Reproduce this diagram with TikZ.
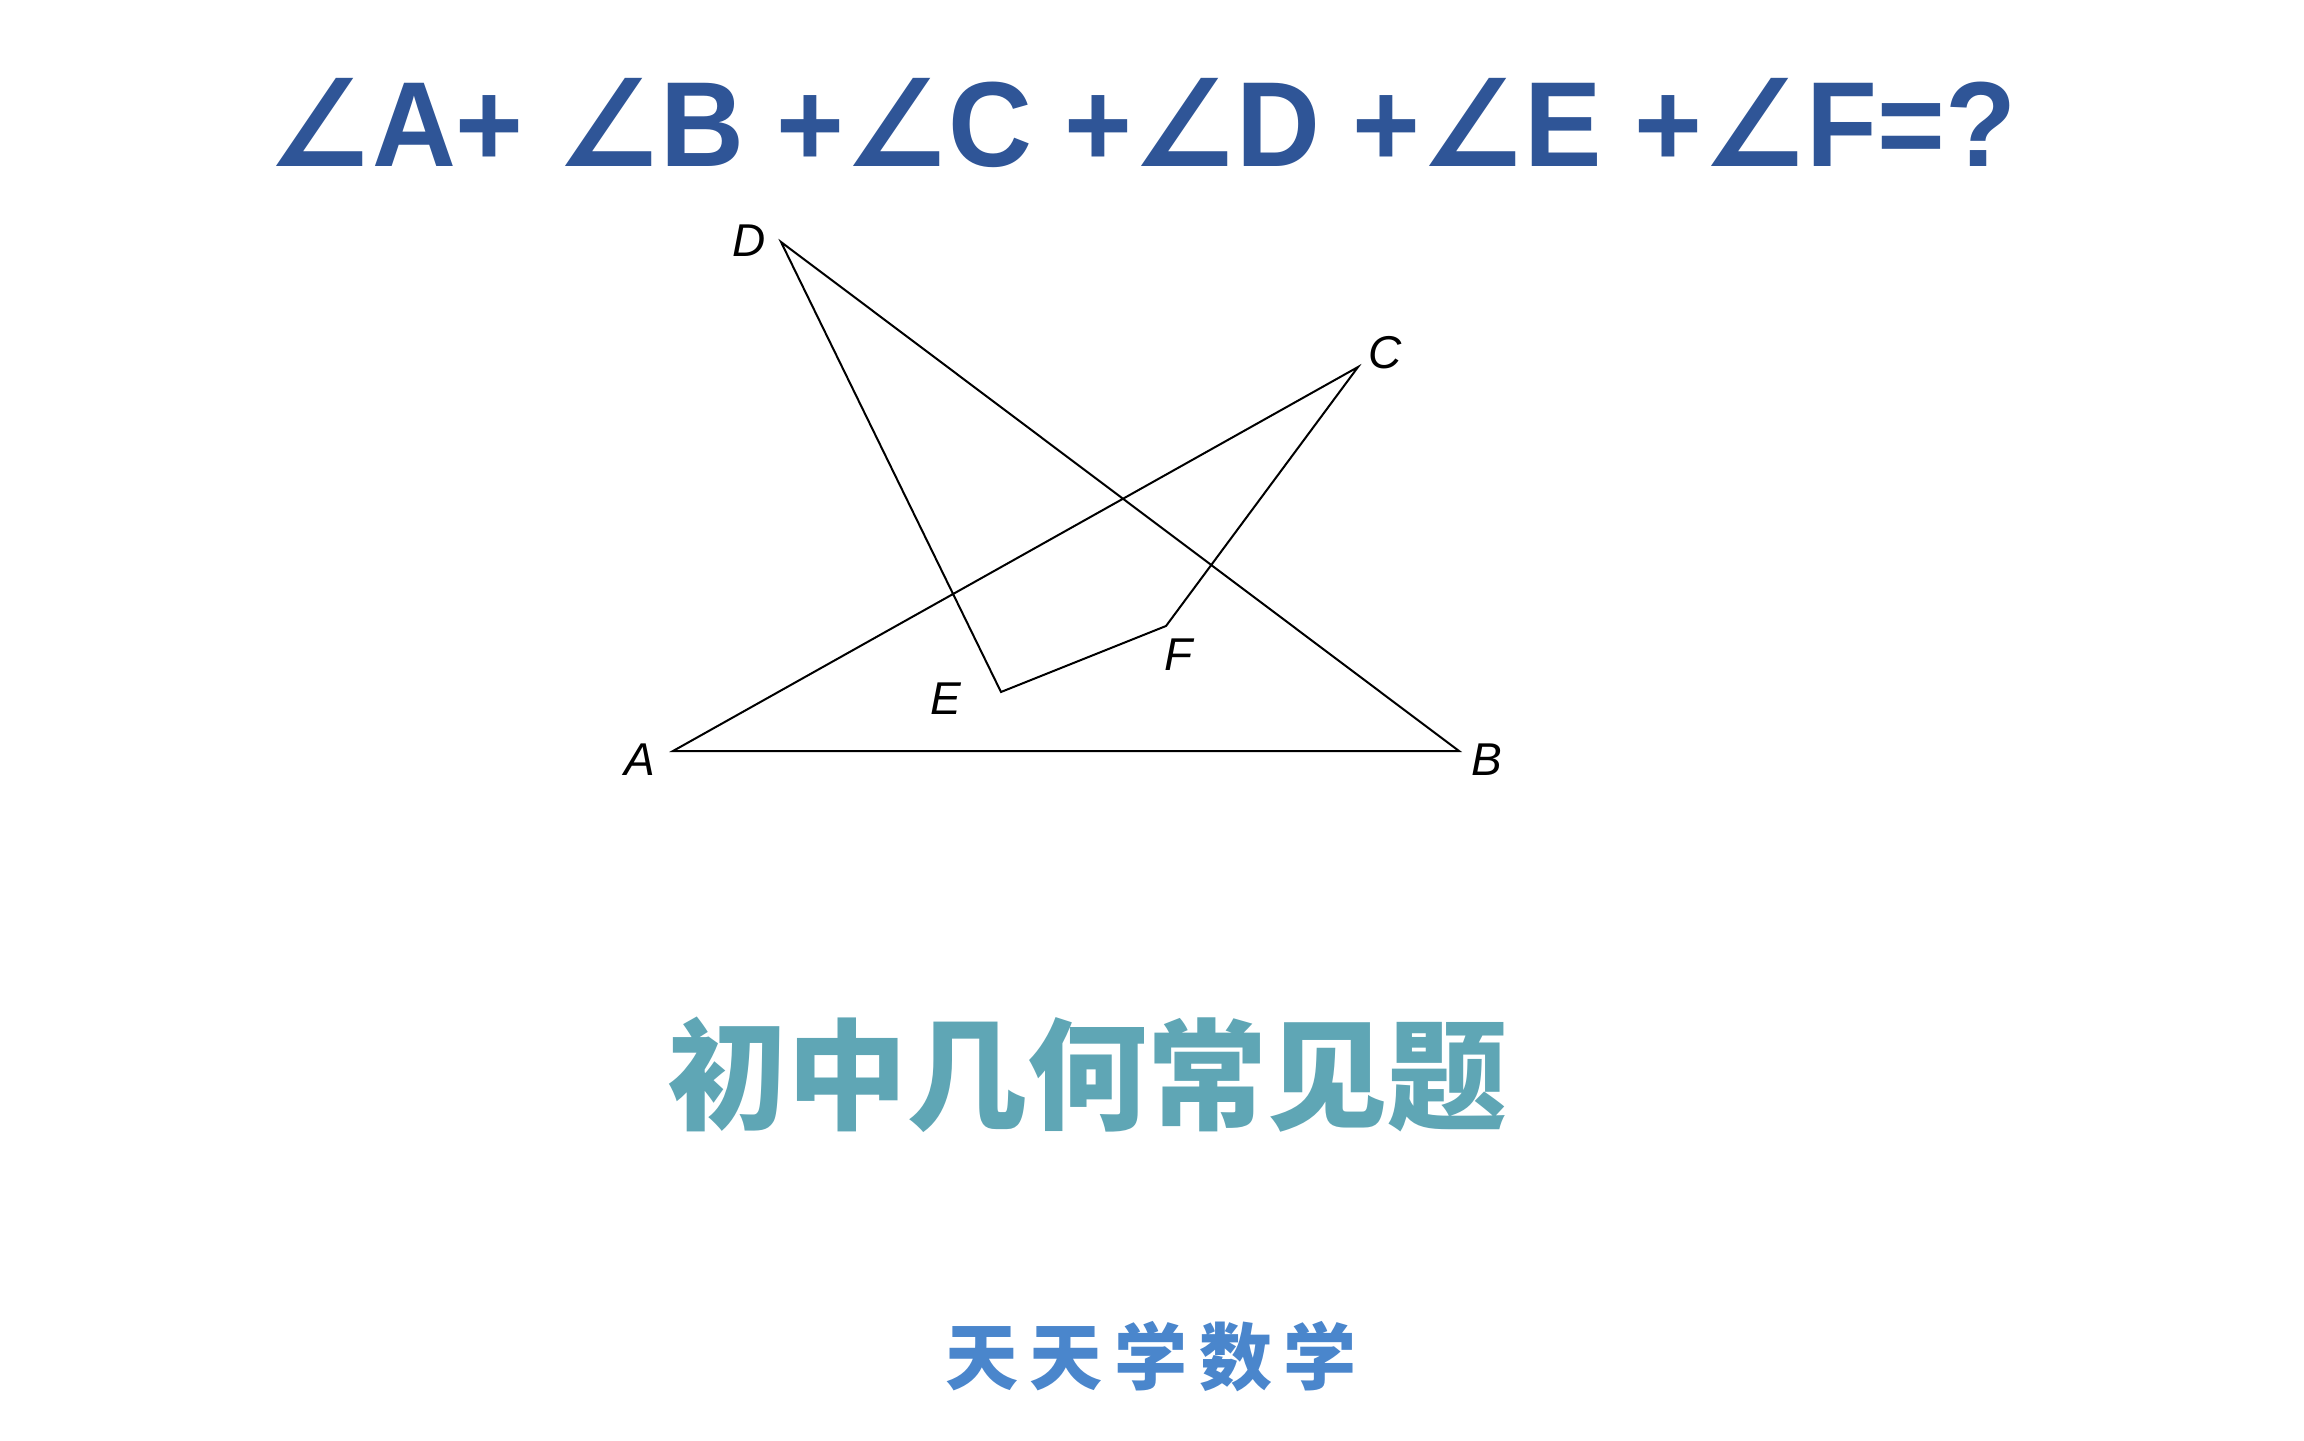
\documentclass[tikz,border=0pt]{standalone}
\usepackage{fontspec}
\setmainfont{Liberation Sans}
\newfontfamily\angfont{DejaVu Sans}
\newfontfamily\cjkfont{Noto Sans CJK SC}
\newfontfamily\cjkfontsp[LetterSpace=16]{Noto Sans CJK SC}
\definecolor{titleblue}{RGB}{47,85,151}
\definecolor{teal}{RGB}{95,166,181}
\definecolor{brandblue}{RGB}{74,134,204}
\begin{document}
\begin{tikzpicture}[x=1pt,y=-1pt,
  edge/.style={draw=black,line width=2pt,line join=miter},
  vlabel/.style={inner sep=0pt,font=\fontsize{46}{46}\selectfont\itshape}]
\useasboundingbox (0,0) rectangle (2304,1440);
\fill[white] (0,0) rectangle (2304,1440);
% title
\node[anchor=base,inner sep=0pt,xscale=0.96,text=titleblue,font=\fontsize{121}{121}\selectfont\bfseries] (title) at (1142,166)
  {{\angfont ∠}A+ {\angfont ∠}B +{\angfont ∠}C +{\angfont ∠}D +{\angfont ∠}E +{\angfont ∠}F=?};
% vertices
\coordinate (A) at (673,751);
\coordinate (B) at (1459,751);
\coordinate (C) at (1358,367);
\coordinate (D) at (781,242);
\coordinate (E) at (1001,692);
\coordinate (F) at (1166,626);
\draw[edge] (A) -- (C) -- (F) -- (E) -- (D) -- (B) -- cycle;
% labels
\node[vlabel] (lA) at (640,760) {A};
\node[vlabel] (lB) at (1487,760) {B};
\node[vlabel] (lC) at (1385,353) {C};
\node[vlabel] (lD) at (749,241) {D};
\node[vlabel] (lE) at (946,699) {E};
\node[vlabel] (lF) at (1179,655) {F};
% captions
\node[inner sep=0pt,text=teal,font=\cjkfont\bfseries\fontsize{120}{120}\selectfont] (sub) at (1087,1075) {初中几何常见题};
\node[inner sep=0pt,text=brandblue,font=\cjkfontsp\bfseries\fontsize{73}{73}\selectfont] (brand) at (1151,1357) {天天学数学};
\end{tikzpicture}
\end{document}
